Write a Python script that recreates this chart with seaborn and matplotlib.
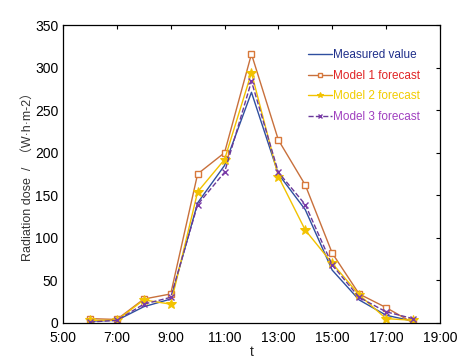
import pandas as pd
import seaborn as sns
import matplotlib
matplotlib.use("Agg")
import matplotlib.pyplot as plt

# podaci ocitani sa slike (sati 6..18)
hours = [6, 7, 8, 9, 10, 11, 12, 13, 14, 15, 16, 17, 18]
measured = [2, 3, 19, 28, 141, 185, 271, 175, 133, 62, 27, 9, 2]
model1 = [5, 4, 28, 34, 175, 200, 316, 215, 162, 82, 34, 18, 0]
model2 = [3, 3, 27, 22, 154, 192, 294, 172, 109, 70, 33, 5, 3]
model3 = [1, 3, 22, 30, 139, 177, 284, 177, 139, 68, 30, 13, 5]

labels = ["Measured value", "Model 1 forecast", "Model 2 forecast", "Model 3 forecast"]
xtick_vals = [5, 7, 9, 11, 13, 15, 17, 19]
xtick_labels = ["5:00", "7:00", "9:00", "11:00", "13:00", "15:00", "17:00", "19:00"]

sns.set_style("white")
plt.rcParams["font.family"] = ["Liberation Sans", "Noto Sans CJK SC"]

fig = plt.figure(figsize=(4.74, 3.64), dpi=100)
ax = fig.add_axes([0.133, 0.113, 0.795, 0.818])

sns.lineplot(x=hours, y=measured, ax=ax, color="#2f4f9f", linewidth=1.0, label=labels[0])
sns.lineplot(x=hours, y=model1, ax=ax, color="#c8703c", linewidth=1.0, marker="s",
             markersize=5, markerfacecolor="white", markeredgecolor="#d8783a",
             markeredgewidth=1.0, label=labels[1])
sns.lineplot(x=hours, y=model2, ax=ax, color="#f2c200", linewidth=1.0, marker="*",
             markersize=7, markeredgecolor="#f2c200", label=labels[2])
sns.lineplot(x=hours, y=model3, ax=ax, color="#6a3a9a", linewidth=1.0, linestyle="--",
             marker="x", markersize=5, markeredgecolor="#7a3aa8", markeredgewidth=1.0,
             label=labels[3])

ax.set_xlim(5, 19)
ax.set_ylim(0, 350)
ax.set_xticks(xtick_vals)
ax.set_xticklabels(xtick_labels)
ax.set_yticks(range(0, 351, 50))
ax.tick_params(direction="in", length=3, width=0.8, top=True, right=True,
               labelsize=10, colors="black")
ax.tick_params(axis="x", pad=6)
for s in ax.spines.values():
    s.set_color("black")
    s.set_linewidth(0.9)

ax.set_xlabel("t", fontsize=10, labelpad=0)
ax.set_ylabel("Radiation dose  /  （W·h·m-2）", fontsize=9, color="#333333", labelpad=1)

leg = ax.legend(loc="upper right", bbox_to_anchor=(0.975, 0.955), frameon=False,
                fontsize=8.5, handlelength=2.0, handletextpad=0.1, labelspacing=0.72,
                markerscale=0.6,
                labelcolor=["#1f2f8a", "#e02424", "#f2cc00", "#a040c0"])

fig.savefig("out.png", dpi=100)
